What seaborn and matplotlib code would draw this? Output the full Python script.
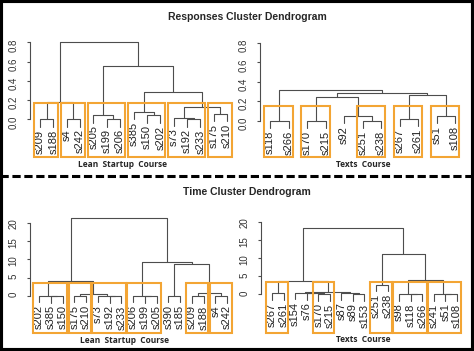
import matplotlib
matplotlib.use("Agg")
import matplotlib.pyplot as plt
import seaborn as sns
import pandas as pd
from matplotlib.patches import Rectangle
from matplotlib.lines import Line2D

# ---- data: leaf order + merges (child a, child b, height); ints point at earlier merges ----
resp_lean_leaves = ["s209", "s188", "s4", "s242", "s205", "s199", "s206", "s385",
                    "s150", "s202", "s73", "s192", "s233", "s175", "s210"]
resp_lean_merges = [
    ("s209", "s188", 0.0), ("s4", "s242", 0.005), (0, 1, 0.18),
    ("s199", "s206", 0.005), ("s205", 3, 0.045),
    ("s150", "s202", 0.045), ("s385", 5, 0.08),
    ("s192", "s233", 0.005), ("s73", 7, 0.015), ("s175", "s210", 0.06),
    (8, 9, 0.13), (6, 10, 0.287), (4, 11, 0.554), (2, 12, 0.806),
]
resp_lean_boxes = [("s209", "s188"), ("s4", "s242"), ("s205", "s206"),
                   ("s385", "s202"), ("s73", "s233"), ("s175", "s210")]

resp_text_leaves = ["s118", "s266", "s170", "s215", "s92", "s251", "s238",
                    "s267", "s261", "s51", "s108"]
resp_text_merges = [
    ("s118", "s266", 0.0), ("s170", "s215", 0.0), ("s251", "s238", 0.0),
    ("s92", 2, 0.05), (1, 3, 0.245),
    ("s267", "s261", 0.02), ("s51", "s108", 0.05), (5, 6, 0.265),
    (4, 7, 0.285), (0, 8, 0.31),
]
resp_text_boxes = [("s118", "s266"), ("s170", "s215"), ("s251", "s238"),
                   ("s267", "s261"), ("s51", "s108")]

time_lean_leaves = ["s202", "s385", "s150", "s175", "s210", "s73", "s192", "s233",
                    "s206", "s199", "s205", "s390", "s185", "s209", "s188", "s4", "s242"]
time_lean_merges = [
    ("s385", "s150", 0.0), ("s202", 0, 0.05),
    ("s175", "s210", 0.1), ("s192", "s233", 0.0), ("s73", 3, 0.05),
    (2, 4, 0.45), (1, 5, 4.1),
    ("s199", "s205", 0.0), ("s206", 7, 0.05),
    ("s390", "s185", 0.1), ("s209", "s188", 0.0), ("s4", "s242", 0.0),
    (10, 11, 0.73), (9, 12, 8.6), (8, 13, 9.2), (6, 14, 21.4),
]
time_lean_boxes = [("s202", "s150"), ("s175", "s210"), ("s73", "s233"),
                   ("s206", "s205"), ("s209", "s188"), ("s4", "s242")]

time_text_leaves = ["s267", "s261", "s154", "s76", "s170", "s215", "s87", "s89",
                    "s153", "s251", "s238", "s98", "s118", "s266", "s241", "s51", "s108"]
time_text_merges = [
    ("s267", "s261", 0.3),
    ("s170", "s215", 0.05), ("s76", 1, 0.3), ("s154", 2, 0.45),
    ("s89", "s153", 0.05), ("s87", 4, 0.3), (3, 5, 0.55),
    (0, 6, 3.8),
    ("s251", "s238", 2.6),
    ("s118", "s266", 0.0), ("s98", 9, 0.05),
    ("s51", "s108", 0.0), ("s241", 11, 0.05),
    (10, 12, 3.9), (8, 13, 11.1), (7, 14, 18.3),
]
time_text_boxes = [("s267", "s261"), ("s170", "s215"), ("s251", "s238"),
                   ("s98", "s266"), ("s241", "s108")]

resp_ticks = [0.0, 0.2, 0.4, 0.6, 0.8]
time_ticks = [0, 5, 10, 15, 20]

W, H = 474, 351
LINE = "#4d4d4d"
ORANGE = "#F3A534"

sns.set_style("white")
plt.rcParams["font.family"] = ["Liberation Sans", "DejaVu Sans"]


def dendro_segments(leaves, merges, hang):
    pos = {name: i for i, name in enumerate(leaves)}
    mx, mh, rows, bottoms = [], [], [], {}
    for k, (a, b, h) in enumerate(merges):
        pts = []
        for c in (a, b):
            if isinstance(c, str):
                pts.append((pos[c], h - hang))
                bottoms[c] = h - hang
            else:
                pts.append((mx[c], mh[c]))
        mx.append((pts[0][0] + pts[1][0]) / 2)
        mh.append(h)
        path = [pts[0], (pts[0][0], h), (pts[1][0], h), pts[1]]
        for j, (x, y) in enumerate(path):
            rows.append({"link": k, "step": j, "x": x, "y": y})
    return pd.DataFrame(rows), pos, bottoms


def draw_panel(fig, leaves, merges, boxes, ticks, ticklabels, lay):
    # lay: pixel layout of this panel
    sx, rx, ty, by = lay["spine"], lay["right"], lay["top"], lay["bottom"]
    x0, dx, y0, dy = lay["x0"], lay["dx"], lay["y0"], lay["dy"]
    ax = fig.add_axes([sx / W, 1 - by / H, (rx - sx) / W, (by - ty) / H])
    ax.patch.set_visible(False)
    ax.set_xlim((sx - x0) / dx, (rx - x0) / dx)
    ax.set_ylim((y0 - by) / dy, (y0 - ty) / dy)

    df, pos, bottoms = dendro_segments(leaves, merges, lay["hang"])
    sns.lineplot(data=df, x="x", y="y", units="link", estimator=None, sort=False,
                 color=LINE, linewidth=0.8, ax=ax)

    for name in leaves:
        ax.annotate(name, (pos[name], bottoms[name]), xytext=(0, -2),
                    textcoords="offset points", rotation=90, ha="center", va="top",
                    fontsize=8, color="#222222")

    btop = (y0 - lay["box_top"]) / dy
    bbot = (y0 - lay["box_bot"]) / dy
    for first, last in boxes:
        left = pos[first] - 5.7 / dx
        right = pos[last] + 4.5 / dx
        ax.add_patch(Rectangle((left, bbot), right - left, btop - bbot, fill=False,
                               ec=ORANGE, lw=1.5, clip_on=False, zorder=3))

    for s in ["top", "right", "bottom"]:
        ax.spines[s].set_visible(False)
    ax.spines["left"].set_bounds(ticks[0], ticks[-1])
    ax.spines["left"].set_color(LINE)
    ax.spines["left"].set_linewidth(0.8)
    ax.set_xticks([])
    ax.set_yticks(ticks)
    ax.set_yticklabels(ticklabels)
    ax.tick_params(axis="y", left=True, length=2.5, width=0.8, color=LINE, pad=6,
                   labelsize=7, labelcolor="#333333", labelrotation=90)
    ax.set_xlabel("")
    ax.set_ylabel("")
    return ax


fig = plt.figure(figsize=(W / 100, H / 100), dpi=100)

lay_tl = dict(spine=30, right=236, top=36, bottom=162, x0=40, dx=13.36,
              y0=119.3, dy=96.25, hang=0.08, box_top=103, box_bot=156.7)
lay_tr = dict(spine=260, right=470, top=36, bottom=162, x0=270, dx=18.5,
              y0=120.5, dy=96.9, hang=0.08, box_top=106, box_bot=157)
lay_bl = dict(spine=30, right=236, top=212, bottom=338, x0=39, dx=11.75,
              y0=296, dy=3.665, hang=1.8, box_top=282.7, box_bot=332.7)
lay_br = dict(spine=261, right=470, top=212, bottom=338, x0=272, dx=11.56,
              y0=294.3, dy=3.63, hang=1.8, box_top=282.3, box_bot=333.3)

draw_panel(fig, resp_lean_leaves, resp_lean_merges, resp_lean_boxes,
           resp_ticks, [f"{t:.1f}" for t in resp_ticks], lay_tl)
draw_panel(fig, resp_text_leaves, resp_text_merges, resp_text_boxes,
           resp_ticks, [f"{t:.1f}" for t in resp_ticks], lay_tr)
draw_panel(fig, time_lean_leaves, time_lean_merges, time_lean_boxes,
           time_ticks, [str(t) for t in time_ticks], lay_bl)
draw_panel(fig, time_text_leaves, time_text_merges, time_text_boxes,
           time_ticks, [str(t) for t in time_ticks], lay_br)

# titles and course labels
fig.text(247 / W, 1 - 17.5 / H, "Responses Cluster Dendrogram", ha="center", va="center",
         fontsize=7.5, fontweight="bold")
fig.text(247 / W, 1 - 192.3 / H, "Time Cluster Dendrogram", ha="center", va="center",
         fontsize=7.5, fontweight="bold")
for x, y, s in [(122.5, 164.3, "Lean  Startup  Course"), (363, 164.3, "Texts  Course"),
                (125, 340.5, "Lean  Startup  Course"), (363, 339.5, "Texts  Course")]:
    fig.text(x / W, 1 - y / H, s, ha="center", va="center", fontsize=6,
             fontweight="bold", family=["Open Sans", "DejaVu Sans"])

# dashed separator and outer frame
fig.add_artist(Line2D([0, 1], [1 - 176 / H] * 2, transform=fig.transFigure,
                      color="black", lw=2.2, linestyle=(0, (2.7, 1.2))))
fig.add_artist(Rectangle((0, 0), 1, 1, transform=fig.transFigure, fill=False,
                         ec="black", lw=4.4, clip_on=False))

fig.savefig("out.png", dpi=100)
